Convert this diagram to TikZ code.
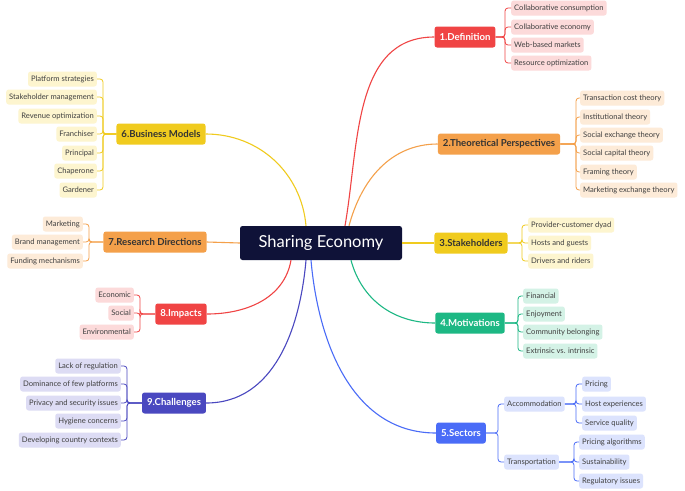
\documentclass[tikz,border=0pt]{standalone}
\usepackage{fontspec}
\setmainfont{Lato}
\usetikzlibrary{calc}
\definecolor{cR}{HTML}{F04444}\definecolor{cRl}{HTML}{FCDADA}
\definecolor{cO}{HTML}{F4A04A}\definecolor{cOl}{HTML}{FDEBD8}
\definecolor{cY}{HTML}{F0CB1E}\definecolor{cYl}{HTML}{FDF5CF}
\definecolor{cG}{HTML}{1DB884}\definecolor{cGl}{HTML}{D4F2E6}
\definecolor{cB}{HTML}{4A6CF7}\definecolor{cBl}{HTML}{DCE3FD}
\definecolor{cI}{HTML}{4A48C0}\definecolor{cIl}{HTML}{DDDCF4}
\definecolor{cC}{HTML}{0F1238}
\begin{document}
\begin{tikzpicture}[x=1pt,y=-1pt,
 main/.style={rounded corners=2.5pt,minimum height=21pt,inner xsep=5pt,font=\fontsize{9.6}{11}\selectfont\bfseries,text=white},
 leaf/.style={rounded corners=2.5pt,minimum height=15pt,inner xsep=3pt,inner ysep=1pt,font=\fontsize{7.6}{8.5}\selectfont,text=black!75},
 br/.style={line width=0.8pt,rounded corners=3pt},
 con/.style={line width=1.1pt}]
\useasboundingbox[fill=white] (0,0) rectangle (685,490);
\node[fill=cC,text=white,rounded corners=2.5pt,minimum width=162pt,minimum height=34pt,font=\fontsize{16.5}{18}\selectfont] (c) at (321,243) {Sharing Economy};
% main nodes
\node[main,fill=cR] (n1) at (465,37) {1.Definition};
\node[main,fill=cO,text=black!80] (n2) at (499,144) {2.Theoretical Perspectives};
\node[main,fill=cY,text=black!80] (n3) at (471,243) {3.Stakeholders};
\node[main,fill=cG] (n4) at (470,323) {4.Motivations};
\node[main,fill=cB] (n5) at (461,433) {5.Sectors};
\node[main,fill=cY,text=black!80] (n6) at (161,134) {6.Business Models};
\node[main,fill=cO,text=black!80] (n7) at (155,242) {7.Research Directions};
\node[main,fill=cR] (n8) at (181,314) {8.Impacts};
\node[main,fill=cI] (n9) at (174,403) {9.Challenges};
% connectors
\draw[con,cR] ([xshift=24pt]c.north) to[out=80,in=180] (n1.west);
\draw[con,cO] ([xshift=28pt]c.north) to[out=75,in=180] (n2.west);
\draw[con,cY] (c.east) -- (n3.west);
\draw[con,cG] ([xshift=30pt]c.south) to[out=-75,in=180] (n4.west);
\draw[con,cB] ([xshift=-10pt]c.south) to[out=-85,in=180] (n5.west);
\draw[con,cY] ([xshift=-15pt]c.north) to[out=95,in=0] (n6.east);
\draw[con,cO] (c.west) -- (n7.east);
\draw[con,cR] ([xshift=-30pt]c.south) to[out=-100,in=0] (n8.east);
\draw[con,cI] ([xshift=-15pt]c.south) to[out=-95,in=0] (n9.east);
% right leaves
\foreach \col/\lc/\pn/\bx/\lx/\items in {
 cR/cRl/n1/505/511/{8/Collaborative consumption,27/Collaborative economy,45/Web-based markets,63/Resource optimization},
 cO/cOl/n2/576/580/{98/Transaction cost theory,117/Institutional theory,135/Social exchange theory,153/Social capital theory,172/Framing theory,190/Marketing exchange theory},
 cY/cYl/n3/522/528/{225/Provider-customer dyad,243/Hosts and guests,261/Drivers and riders},
 cG/cGl/n4/518/523/{296/Financial,314/Enjoyment,332/Community belonging,351/Extrinsic vs. intrinsic}}{
 \foreach \y/\t [count=\i] in \items {
  \node[leaf,fill=\lc,anchor=west] (\pn l\i) at (\lx,\y) {\t};
  \draw[br,\col] (\pn.east) -- (\bx,0 |- \pn.east) |- (\pn l\i.west);
 }}
% sectors
\node[leaf,fill=cBl,anchor=west] (s1) at (504,404) {Accommodation};
\node[leaf,fill=cBl,anchor=west] (s2) at (504,462) {Transportation};
\draw[br,cB] (n5.east) -- (498,0 |- n5.east) |- (s1.west);
\draw[br,cB] (n5.east) -- (498,0 |- n5.east) |- (s2.west);
\foreach \y/\t [count=\i] in {384/Pricing,404/Host experiences,423/Service quality}{
 \node[leaf,fill=cBl,anchor=west] (a\i) at (582,\y) {\t};
 \draw[br,cB] (s1.east) -- (576,0 |- s1.east) |- (a\i.west);}
\foreach \y/\t [count=\i] in {442/Pricing algorithms,462/Sustainability,481/Regulatory issues}{
 \node[leaf,fill=cBl,anchor=west] (b\i) at (579,\y) {\t};
 \draw[br,cB] (s2.east) -- (574,0 |- s2.east) |- (b\i.west);}
% left leaves
\foreach \col/\lc/\pn/\bx/\lx/\items in {
 cY/cYl/n6/103/97/{79/Platform strategies,97/Stakeholder management,116/Revenue optimization,134/Franchiser,153/Principal,171/Chaperone,190/Gardener},
 cO/cOl/n7/89/83/{224/Marketing,242/Brand management,261/Funding mechanisms},
 cR/cRl/n8/140/134/{295/Economic,313/Social,332/Environmental},
 cI/cIl/n9/127/121/{366/Lack of regulation,384/Dominance of few platforms,403/Privacy and security issues,421/Hygiene concerns,440/Developing country contexts}}{
 \foreach \y/\t [count=\i] in \items {
  \node[leaf,fill=\lc,anchor=east] (\pn l\i) at (\lx,\y) {\t};
  \draw[br,\col] (\pn.west) -- (\bx,0 |- \pn.west) |- (\pn l\i.east);
 }}
\end{tikzpicture}
\end{document}
